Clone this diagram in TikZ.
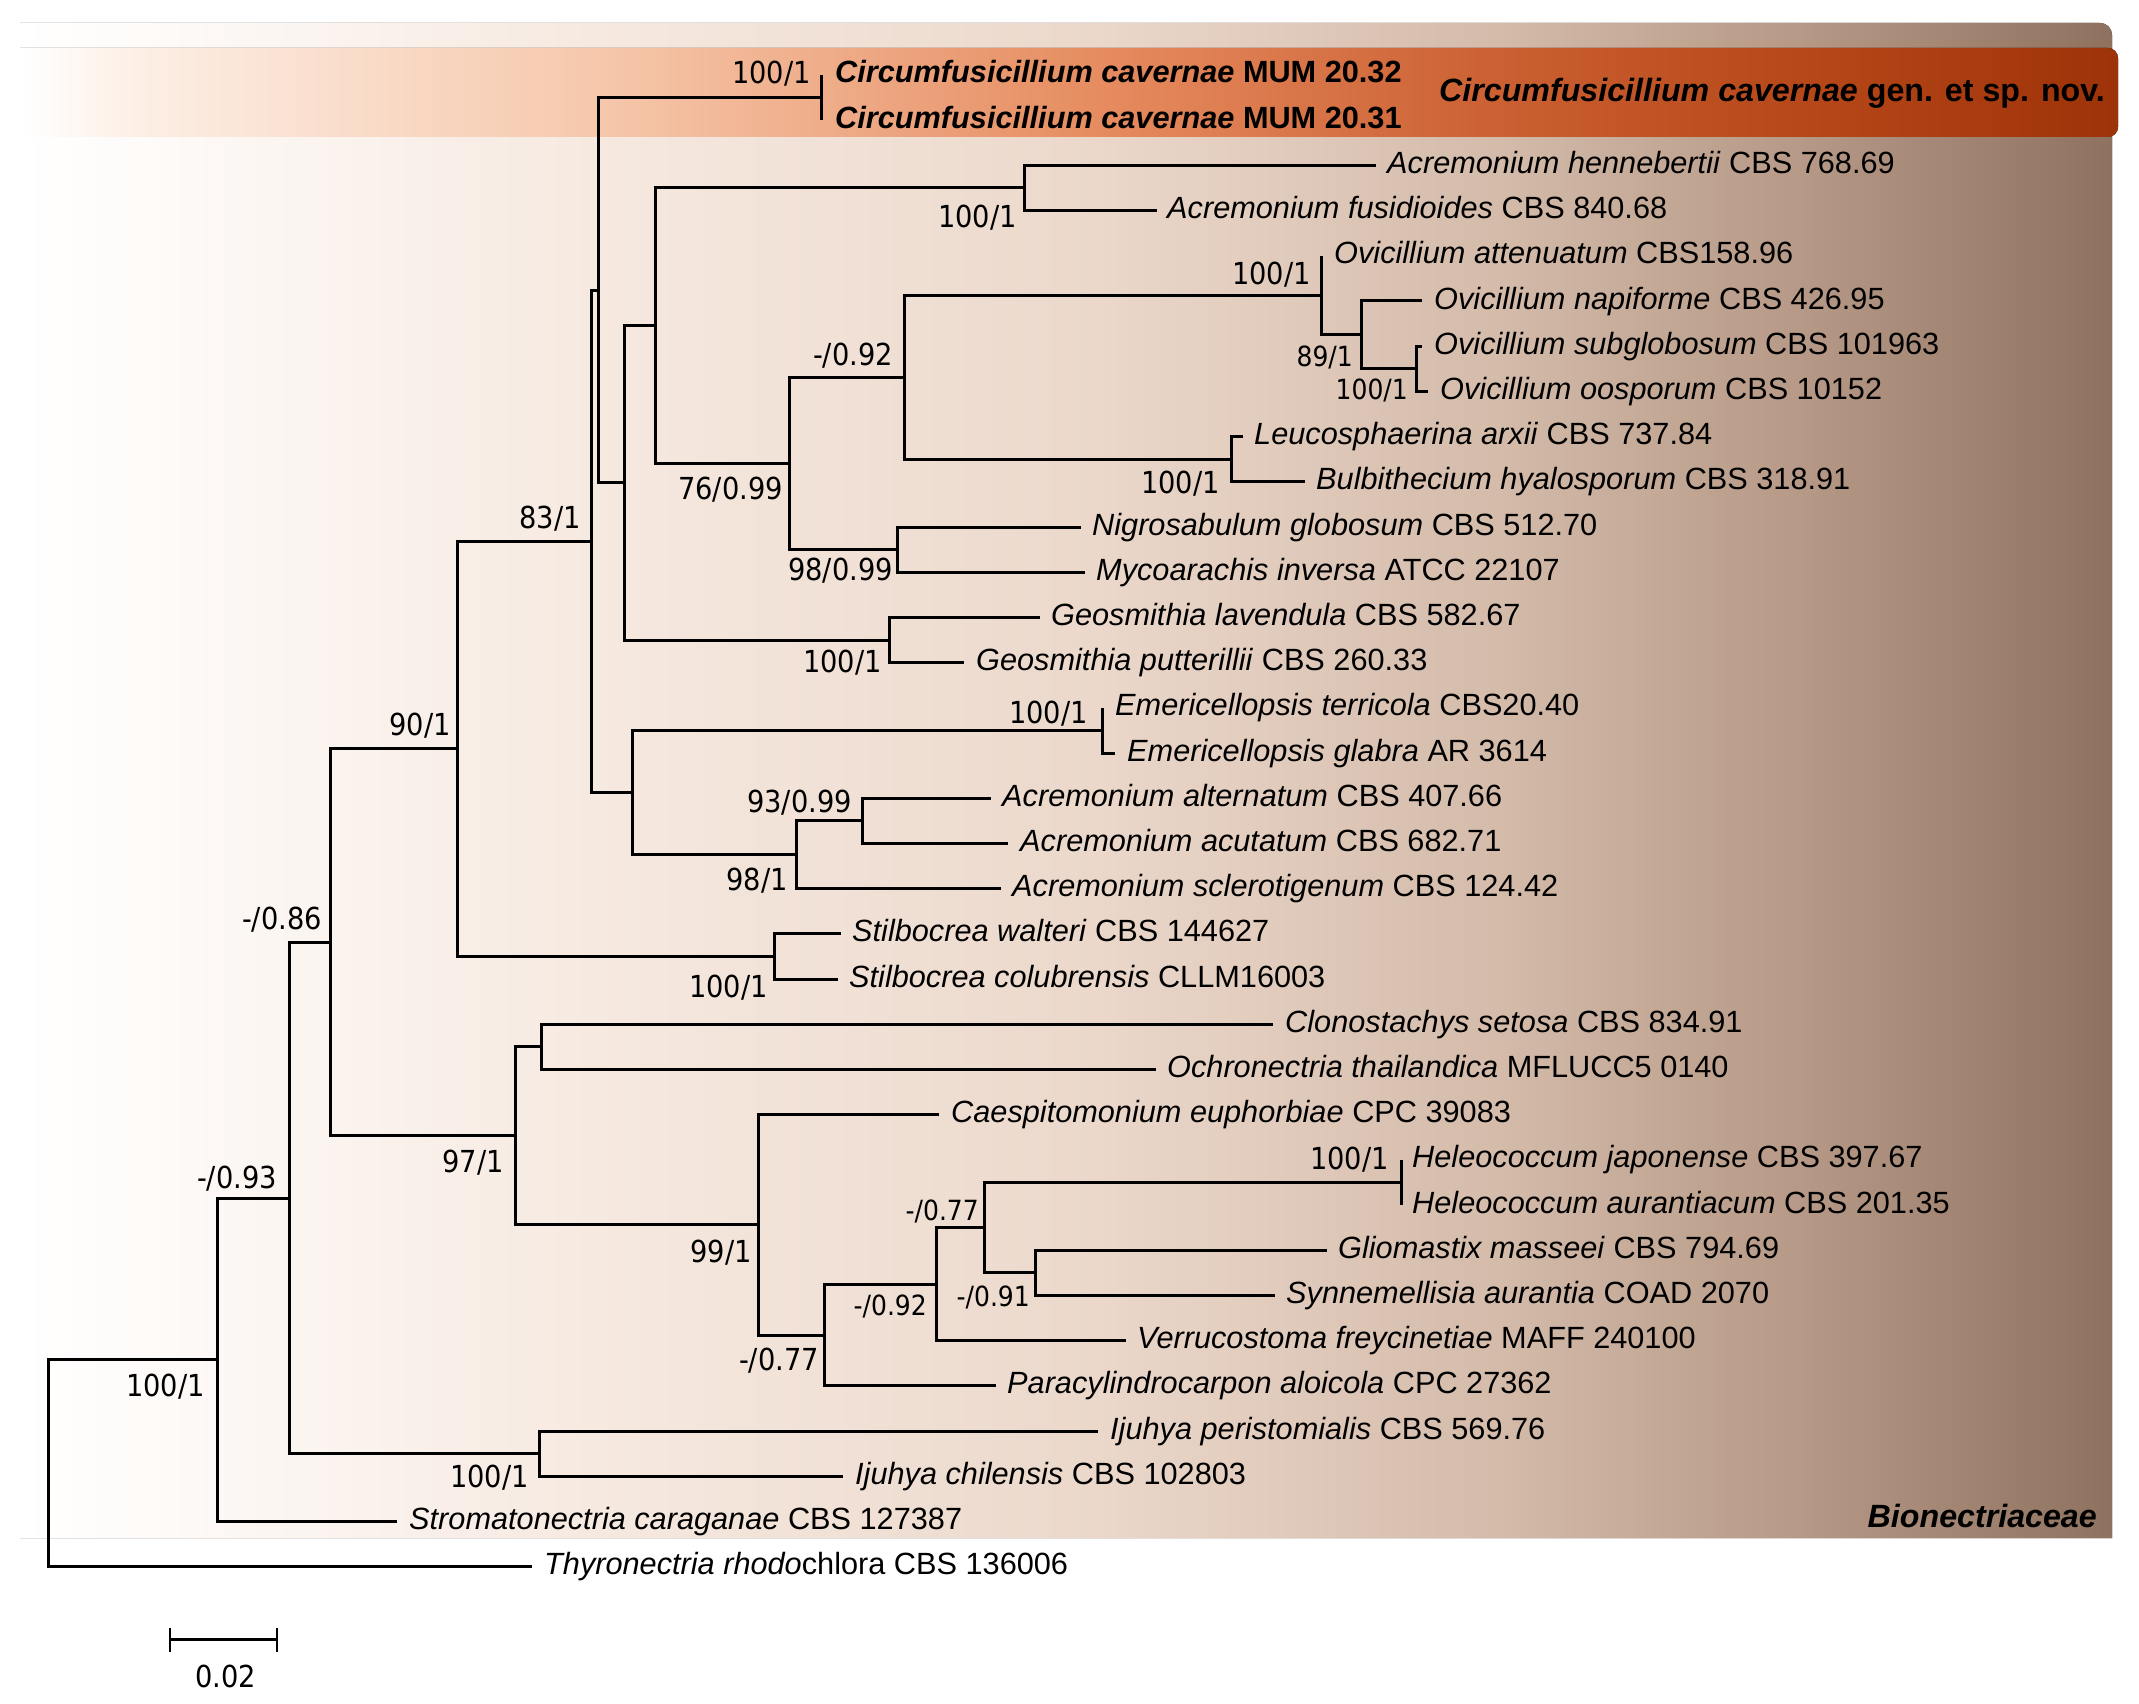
\documentclass[tikz,border=0pt]{standalone}
\usepackage{fontspec}
\setmainfont{Liberation Sans}
\newfontfamily\supfont[FakeStretch=0.9]{DejaVu Sans}
\definecolor{bw0}{RGB}{255,255,255}
\definecolor{bw1}{RGB}{254,251,249}
\definecolor{bw2}{RGB}{246,233,224}
\definecolor{bw3}{RGB}{235,216,203}
\definecolor{bw4}{RGB}{212,187,170}
\definecolor{bw5}{RGB}{182,153,134}
\definecolor{bw6}{RGB}{142,113,94}
\definecolor{oc0}{RGB}{255,255,255}
\definecolor{oc1}{RGB}{252,238,228}
\definecolor{oc2}{RGB}{246,200,172}
\definecolor{oc3}{RGB}{230,140,96}
\definecolor{oc4}{RGB}{203,96,50}
\definecolor{oc5}{RGB}{182,72,25}
\definecolor{oc6}{RGB}{158,50,8}
\pgfdeclarehorizontalshading{bionect}{100bp}{color(0bp)=(bw0); color(25bp)=(bw0); color(27.9bp)=(bw1); color(38.7bp)=(bw2); color(50.7bp)=(bw3); color(60.3bp)=(bw4); color(67.5bp)=(bw5); color(75bp)=(bw6); color(100bp)=(bw6)}
\pgfdeclarehorizontalshading{circband}{100bp}{color(0bp)=(oc0); color(25bp)=(oc0); color(27.9bp)=(oc1); color(38.7bp)=(oc2); color(50.7bp)=(oc3); color(60.2bp)=(oc4); color(67.4bp)=(oc5); color(75bp)=(oc6); color(100bp)=(oc6)}
\begin{document}
\begin{tikzpicture}[x=1pt,y=-1pt,
  br/.style={line width=3pt, line join=miter},
  taxon/.style={anchor=west, inner sep=0pt, text height=22pt, text depth=6pt, font=\fontsize{30.7}{36}\selectfont},
  sup/.style={anchor=east, inner sep=0pt, text height=21pt, text depth=0pt, font=\supfont\fontsize{30.3}{34}\selectfont},
  supsm/.style={sup, text height=19.3pt, font=\supfont\fontsize{27.8}{32}\selectfont},
  cladelab/.style={anchor=base east, inner sep=0pt, font=\fontsize{32.2}{38}\selectfont\bfseries}]
\useasboundingbox (0,0) rectangle (2139,1704);
\fill[white] (0,0) rectangle (2139,1704);
% background bands
\fill[shading=bionect] (20,1538) -- (20,23) [rounded corners=12pt] -- (2112,23) [sharp corners] -- (2112,1538) -- cycle;
\fill[shading=circband] (20,137) -- (20,48) [rounded corners=10pt] -- (2118,48) -- (2118,137) [sharp corners] -- cycle;
% internal nodes
\coordinate (root) at (48,1463);
\coordinate (nR) at (217,1359.7);
\coordinate (n93b) at (289,1198);
\coordinate (n86) at (330,942.4);
\coordinate (n90) at (457,748.9);
\coordinate (n83) at (591,541.4);
\coordinate (nC) at (598,290.2);
\coordinate (nCirc) at (821,97.6);
\coordinate (nB) at (624,482.9);
\coordinate (nA) at (655,325.7);
\coordinate (nAcr) at (1024,188);
\coordinate (n76) at (789,463.5);
\coordinate (nN92) at (904,377.3);
\coordinate (nOv1) at (1321,295.4);
\coordinate (nOv2) at (1361,334.9);
\coordinate (nOv3) at (1416,368.8);
\coordinate (nLeu) at (1231,459.2);
\coordinate (nNig) at (897,549.6);
\coordinate (nGeo) at (889,640);
\coordinate (nD) at (632,792.6);
\coordinate (nEm) at (1102,730.4);
\coordinate (n98) at (796,854.7);
\coordinate (n93) at (862,820.8);
\coordinate (nSt) at (774,956.4);
\coordinate (n97) at (515,1135.8);
\coordinate (nClo) at (541,1046.8);
\coordinate (n99) at (758,1224.8);
\coordinate (n77l) at (824,1335);
\coordinate (n92l) at (936,1284.1);
\coordinate (n77u) at (984,1227.6);
\coordinate (nHel) at (1401,1182.4);
\coordinate (n91) at (1035,1272.8);
\coordinate (nIj) at (539,1453.6);
% tips
\coordinate (t1) at (821,75);
\coordinate (t2) at (821,120.2);
\coordinate (t3) at (1376,165.4);
\coordinate (t4) at (1157,210.6);
\coordinate (t5) at (1321,255.8);
\coordinate (t6) at (1422,301);
\coordinate (t7) at (1422,346.2);
\coordinate (t8) at (1428,391.4);
\coordinate (t9) at (1243,436.6);
\coordinate (t10) at (1305,481.8);
\coordinate (t11) at (1081,527);
\coordinate (t12) at (1085,572.2);
\coordinate (t13) at (1040,617.4);
\coordinate (t14) at (964,662.6);
\coordinate (t15) at (1102,707.8);
\coordinate (t16) at (1115,753);
\coordinate (t17) at (991,798.2);
\coordinate (t18) at (1008,843.4);
\coordinate (t19) at (1001,888.6);
\coordinate (t20) at (841,933.8);
\coordinate (t21) at (838,979);
\coordinate (t22) at (1273,1024.2);
\coordinate (t23) at (1156,1069.4);
\coordinate (t24) at (939,1114.6);
\coordinate (t25) at (1401,1159.8);
\coordinate (t26) at (1401,1205);
\coordinate (t27) at (1327,1250.2);
\coordinate (t28) at (1275,1295.4);
\coordinate (t29) at (1126,1340.6);
\coordinate (t30) at (996,1385.8);
\coordinate (t31) at (1098,1431);
\coordinate (t32) at (843,1476.2);
\coordinate (t33) at (397,1521.4);
\coordinate (t34) at (532,1566.6);
% branches
\foreach \a/\b in {root/nR, root/t34, nR/n93b, nR/t33, n93b/n86, n93b/nIj,
  n86/n90, n86/n97, n90/n83, n90/nSt, n83/nC, n83/nD, nC/nCirc, nC/nB,
  nCirc/t1, nCirc/t2, nB/nA, nB/nGeo, nA/nAcr, nA/n76, nAcr/t3, nAcr/t4,
  n76/nN92, n76/nNig, nN92/nOv1, nN92/nLeu, nOv1/t5, nOv1/nOv2, nOv2/t6, nOv2/nOv3,
  nOv3/t7, nOv3/t8, nLeu/t9, nLeu/t10, nNig/t11, nNig/t12, nGeo/t13, nGeo/t14,
  nD/nEm, nD/n98, nEm/t15, nEm/t16, n98/n93, n98/t19, n93/t17, n93/t18,
  nSt/t20, nSt/t21, n97/nClo, n97/n99, nClo/t22, nClo/t23, n99/t24, n99/n77l,
  n77l/n92l, n77l/t30, n92l/n77u, n92l/t29, n77u/nHel, n77u/n91, nHel/t25, nHel/t26,
  n91/t27, n91/t28, nIj/t31, nIj/t32}
  \draw[br] (\a) |- (\b);
% taxon labels
\node[taxon] (L1) at (835,75) {\bfseries\textit{Circumfusicillium cavernae} MUM 20.32};
\node[taxon] (L2) at (835,120.2) {\bfseries\textit{Circumfusicillium cavernae} MUM 20.31};
\node[taxon] (L3) at (1387,165.4) {\textit{Acremonium hennebertii} CBS 768.69};
\node[taxon] (L4) at (1167,210.6) {\textit{Acremonium fusidioides} CBS 840.68};
\node[taxon] (L5) at (1334,255.8) {\textit{Ovicillium attenuatum} CBS158.96};
\node[taxon] (L6) at (1434,301) {\textit{Ovicillium napiforme} CBS 426.95};
\node[taxon] (L7) at (1434,346.2) {\textit{Ovicillium subglobosum} CBS 101963};
\node[taxon] (L8) at (1440,391.4) {\textit{Ovicillium oosporum} CBS 10152};
\node[taxon] (L9) at (1254,436.6) {\textit{Leucosphaerina arxii} CBS 737.84};
\node[taxon] (L10) at (1316,481.8) {\textit{Bulbithecium hyalosporum} CBS 318.91};
\node[taxon] (L11) at (1092,527) {\textit{Nigrosabulum globosum} CBS 512.70};
\node[taxon] (L12) at (1096,572.2) {\textit{Mycoarachis inversa} ATCC 22107};
\node[taxon] (L13) at (1051,617.4) {\textit{Geosmithia lavendula} CBS 582.67};
\node[taxon] (L14) at (976,662.6) {\textit{Geosmithia putterillii} CBS 260.33};
\node[taxon] (L15) at (1115,707.8) {\textit{Emericellopsis terricola} CBS20.40};
\node[taxon] (L16) at (1127,753) {\textit{Emericellopsis glabra} AR 3614};
\node[taxon] (L17) at (1002,798.2) {\textit{Acremonium alternatum} CBS 407.66};
\node[taxon] (L18) at (1020,843.4) {\textit{Acremonium acutatum} CBS 682.71};
\node[taxon] (L19) at (1012,888.6) {\textit{Acremonium sclerotigenum} CBS 124.42};
\node[taxon] (L20) at (852,933.8) {\textit{Stilbocrea walteri} CBS 144627};
\node[taxon] (L21) at (849,979) {\textit{Stilbocrea colubrensis} CLLM16003};
\node[taxon] (L22) at (1285,1024.2) {\textit{Clonostachys setosa} CBS 834.91};
\node[taxon] (L23) at (1167,1069.4) {\textit{Ochronectria thailandica} MFLUCC5 0140};
\node[taxon] (L24) at (951,1114.6) {\textit{Caespitomonium euphorbiae} CPC 39083};
\node[taxon] (L25) at (1412,1159.8) {\textit{Heleococcum japonense} CBS 397.67};
\node[taxon] (L26) at (1412,1205) {\textit{Heleococcum aurantiacum} CBS 201.35};
\node[taxon] (L27) at (1338,1250.2) {\textit{Gliomastix masseei} CBS 794.69};
\node[taxon] (L28) at (1286,1295.4) {\textit{Synnemellisia aurantia} COAD 2070};
\node[taxon] (L29) at (1137,1340.6) {\textit{Verrucostoma freycinetiae} MAFF 240100};
\node[taxon] (L30) at (1007,1385.8) {\textit{Paracylindrocarpon aloicola} CPC 27362};
\node[taxon] (L31) at (1110,1431) {\textit{Ijuhya peristomialis} CBS 569.76};
\node[taxon] (L32) at (855,1476.2) {\textit{Ijuhya chilensis} CBS 102803};
\node[taxon] (L33) at (409,1521.4) {\textit{Stromatonectria caraganae} CBS 127387};
\node[taxon] (L34) at (544,1566.6) {\textit{Thyronectria rhodo}chlora CBS 136006};
% support values
\node[sup] (s1) at (811,73) {100/1};
\node[sup] (s2) at (1017,217) {100/1};
\node[sup] (s3) at (1311,274) {100/1};
\node[supsm] (s4) at (1353,357) {89/1};
\node[supsm] (s5) at (1408,390) {100/1};
\node[sup] (s6) at (893,355) {-/0.92};
\node[sup] (s7) at (783,489) {76/0.99};
\node[sup] (s8) at (1220,483) {100/1};
\node[sup] (s9) at (893,570) {98/0.99};
\node[sup] (s10) at (581,518) {83/1};
\node[sup] (s11) at (882,662) {100/1};
\node[sup] (s12) at (1088,713) {100/1};
\node[sup] (s13) at (852,802) {93/0.99};
\node[sup] (s14) at (788,880) {98/1};
\node[sup] (s15) at (451,725) {90/1};
\node[sup] (s16) at (768,987) {100/1};
\node[sup] (s17) at (322,919) {-/0.86};
\node[sup] (s18) at (504,1162) {97/1};
\node[sup] (s19) at (752,1252) {99/1};
\node[sup] (s20) at (819,1360) {-/0.77};
\node[supsm] (s21) at (927,1306) {-/0.92};
\node[supsm] (s22) at (979,1211) {-/0.77};
\node[sup] (s23) at (1389,1159) {100/1};
\node[supsm] (s24) at (1030,1297) {-/0.91};
\node[sup] (s25) at (277,1178) {-/0.93};
\node[sup] (s26) at (529,1477) {100/1};
\node[sup] (s27) at (205,1386) {100/1};
% clade labels
\node[cladelab] (cl1) at (2105,102) {\textit{Circumfusicillium cavernae} gen. et sp. nov.};
\node[cladelab] (cl2) at (2097,1527) {\textit{Bionectriaceae}};
% scale bar
\coordinate (sbL) at (170,1639);
\coordinate (sbR) at (277,1639);
\draw[br] (sbL) -- (sbR);
\draw[line width=2.2pt] ([yshift=11pt]sbL) -- ([yshift=-13pt]sbL);
\draw[line width=2.2pt] ([yshift=11pt]sbR) -- ([yshift=-13pt]sbR);
\node[sup, anchor=center] (sblab) at (225.5,1677) {0.02};
\end{tikzpicture}
\end{document}
